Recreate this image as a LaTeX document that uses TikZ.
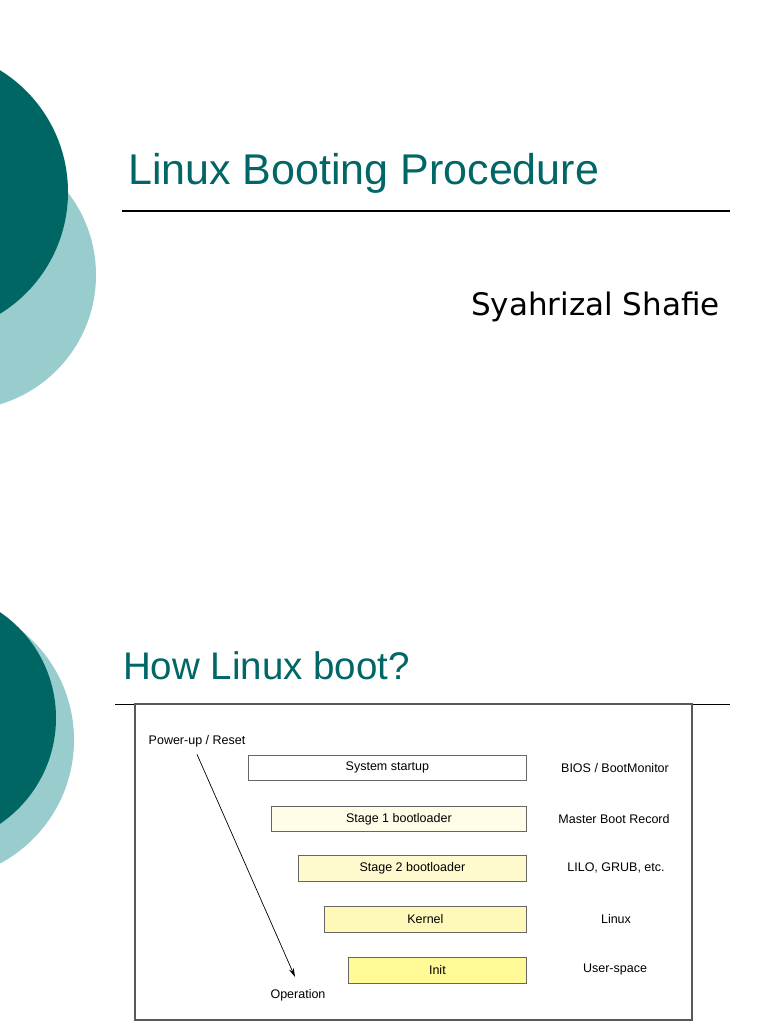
\documentclass[tikz,border=0pt]{standalone}
\usepackage{fontspec}
\setmainfont{Liberation Sans}
\newfontfamily\verd{DejaVu Sans}
\usetikzlibrary{arrows.meta}
\definecolor{teal1}{RGB}{0,102,100}
\definecolor{teal2}{RGB}{153,204,204}
\definecolor{ttl}{RGB}{0,102,102}
\definecolor{c1}{RGB}{255,253,232}
\definecolor{c2}{RGB}{255,250,205}
\definecolor{c3}{RGB}{255,249,185}
\definecolor{c4}{RGB}{255,250,150}
\begin{document}
\begin{tikzpicture}[x=1pt,y=-1pt,
  stepbox/.style={draw=gray!80!black,line width=0.8pt,anchor=north west,inner sep=0,font=\fontsize{12.5}{14}\selectfont},
  lab/.style={font=\fontsize{12.5}{14}\selectfont}]
\useasboundingbox (0,0) rectangle (768,1024);
\fill[white] (0,0) rectangle (768,1024);
\begin{scope}
\clip (0,0) rectangle (768,1024);
\fill[teal2] (-39,275) circle (135);
\fill[teal1] (-75,192) circle (143);
\fill[teal2] (-66,740) circle (140);
\fill[teal1] (-72,718) circle (128);
\end{scope}
\node[anchor=west,text=ttl,font=\fontsize{43}{48}\selectfont,inner sep=0] (t1) at (128,173) {Linux Booting Procedure};
\draw[line width=1.2pt] (122,211) -- (730,211);
\node[anchor=east,font=\verd\fontsize{31}{36}\selectfont,inner sep=0] (au) at (720,307) {Syahrizal Shafie};
\node[anchor=west,text=ttl,font=\fontsize{38.5}{44}\selectfont,inner sep=0] (t2) at (123,666) {How Linux boot?};
\draw[line width=1pt] (115,704) -- (730,704);
\draw[fill=white,draw=gray!70!black,line width=1.2pt] (135,704) rectangle (692,1020);
\node[stepbox,fill=white,minimum width=278pt,minimum height=25pt] (b1) at (248,755) {System startup};
\node[stepbox,fill=c1,minimum width=255pt,minimum height=25pt] (b2) at (271,806) {Stage 1 bootloader};
\node[stepbox,fill=c2,minimum width=228pt,minimum height=26pt] (b3) at (298,855) {Stage 2 bootloader};
\node[stepbox,fill=c3,minimum width=202pt,minimum height=26pt] (b4) at (324,906) {Kernel};
\node[stepbox,fill=c4,minimum width=178pt,minimum height=26pt] (b5) at (348,957) {Init};
\node[lab] (l1) at (615,768) {BIOS / BootMonitor};
\node[lab] (l2) at (614,819) {Master Boot Record};
\node[lab] (l3) at (616,868) {LILO, GRUB, etc.};
\node[lab] (l4) at (616,919) {Linux};
\node[lab] (l5) at (615,969) {User-space};
\node[lab] (pw) at (197,741) {Power-up / Reset};
\node[lab] (op) at (298,995) {Operation};
\draw[-{Stealth[length=9pt,width=5pt]},line width=0.7pt] (pw.south) ++(0,4) coordinate (s) -- (295,977) coordinate (e);
\end{tikzpicture}
\end{document}
